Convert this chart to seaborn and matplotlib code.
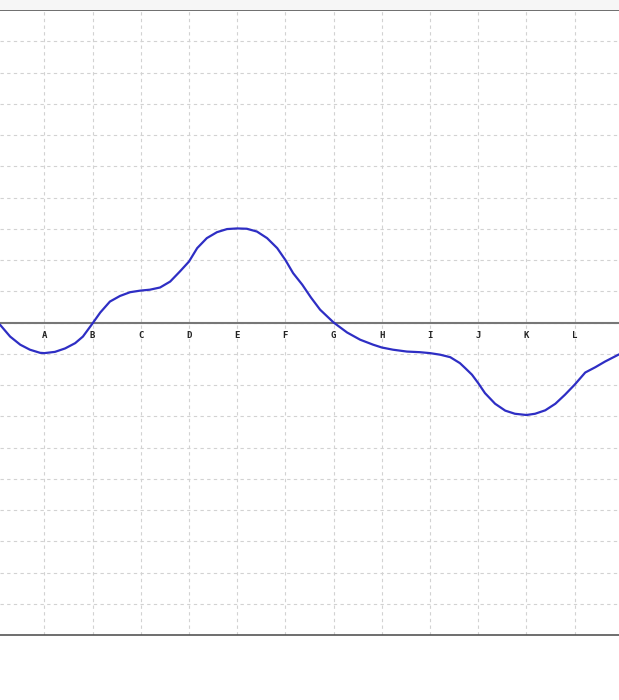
import matplotlib
matplotlib.use("Agg")
import matplotlib.pyplot as plt
import seaborn as sns
import pandas as pd
from matplotlib.patches import Rectangle

# categories along the x axis (A sits at position 0)
categories = ["A", "B", "C", "D", "E", "F", "G", "H", "I", "J", "K", "L"]

# curve samples (x in category units)
curve_x = [-0.92, -0.71, -0.50, -0.30, -0.09, 0.00, 0.22, 0.43, 0.64, 0.80,
           0.99, 1.16, 1.36, 1.57, 1.78, 1.99, 2.19, 2.40, 2.61, 2.81,
           3.00, 3.17, 3.37, 3.58, 3.79, 4.00, 4.20, 4.41, 4.62, 4.83,
           5.00, 5.16, 5.35, 5.53, 5.72, 6.00, 6.28, 6.55, 6.82, 7.00,
           7.23, 7.52, 7.79, 8.00, 8.21, 8.42, 8.62, 8.73, 8.87, 9.00,
           9.14, 9.35, 9.56, 9.76, 10.00, 10.18, 10.39, 10.60, 10.80, 11.00,
           11.22, 11.43, 11.63, 11.92]
curve_y = [-0.07, -0.45, -0.71, -0.87, -0.97, -0.98, -0.94, -0.83, -0.66, -0.45,
           -0.05, 0.32, 0.67, 0.85, 0.97, 1.02, 1.05, 1.12, 1.31, 1.63,
           1.95, 2.38, 2.70, 2.89, 2.99, 3.01, 3.00, 2.91, 2.70, 2.38,
           2.00, 1.58, 1.21, 0.80, 0.41, 0.00, -0.32, -0.55, -0.71, -0.80,
           -0.87, -0.93, -0.95, -0.98, -1.03, -1.11, -1.30, -1.46, -1.67, -1.94,
           -2.26, -2.60, -2.82, -2.92, -2.96, -2.92, -2.81, -2.60, -2.31, -1.99,
           -1.60, -1.43, -1.25, -1.02]

y_ticks = list(range(-9, 10))

df = pd.DataFrame({"x": curve_x, "y": curve_y})

sns.set_style("white")
fig = plt.figure(figsize=(6.19, 7.0), dpi=100)
ax = fig.add_axes([0.0, 1 - 635 / 700, 1.0, 625 / 700])

# faint band above the plot
fig.patches.append(Rectangle((0, 1 - 10 / 700), 1, 10 / 700, transform=fig.transFigure,
                             facecolor="#f6f6f6", edgecolor="none", zorder=0))

ax.set_xlim(-0.92, 11.92)
ax.set_ylim(-10, 10)
ax.set_xticks(range(len(categories)))
ax.set_yticks(y_ticks)
ax.tick_params(length=0, labelbottom=False, labelleft=False)
ax.grid(True, color="#d2d2d2", linestyle=(0, (3, 3)), linewidth=0.8)

for s in ["left", "right"]:
    ax.spines[s].set_visible(False)
for s in ["top", "bottom"]:
    ax.spines[s].set_color("#555555")
    ax.spines[s].set_linewidth(1.2)

ax.axhline(0, color="#777777", linewidth=1.5, zorder=2)

for i, c in enumerate(categories):
    ax.text(i, -0.42, c, ha="center", va="center", fontsize=6.5,
            fontweight="bold", color="#222222", family="DejaVu Sans Mono")

sns.lineplot(data=df, x="x", y="y", sort=False, estimator=None,
             color="#2e2ec4", linewidth=1.6, ax=ax, zorder=3)
ax.set_xlabel("")
ax.set_ylabel("")

fig.savefig("out.png", dpi=100)
